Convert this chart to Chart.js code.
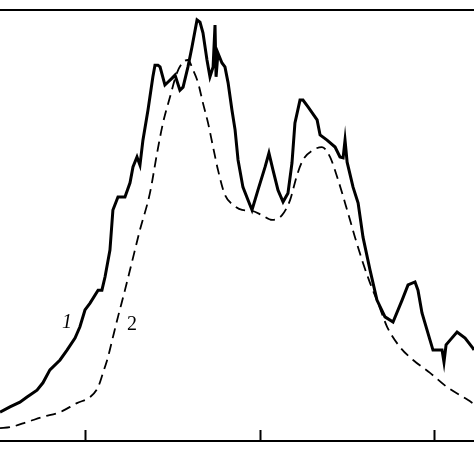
<!DOCTYPE html>
<html>
<head>
<meta charset="utf-8">
<script src="https://cdn.jsdelivr.net/npm/chart.js@4/dist/chart.umd.min.js"></script>
<style>
html, body { margin: 0; padding: 0; background: #fff; }
#wrap { width: 474px; height: 474px; }
</style>
</head>
<body>
<div id="wrap"><canvas id="grafico"></canvas></div>
<script>
// ======================================
// DATOS
// ======================================

// curva 1 (linea continua)
const xCurva1 = [51.3, 57.0, 62.7, 66.8, 72.5, 75.9, 79.9, 85.7, 89.7, 94.3, 97.1, 100, 102.9, 107.5, 109.7, 111.5, 114.3, 116.0, 118.9, 122.9, 125.8, 127.5, 129.8, 131.5, 133.2, 136.1, 138.9, 140.1, 141.8, 143.0, 145.8, 147.6, 149.9, 151.6, 154.4, 156.2, 159.0, 161.3, 164.2, 165.9, 167.6, 169.9, 171.6, 173.4, 174.5, 175.1, 176.2, 178.5, 180.2, 182.0, 184.2, 186.0, 187.7, 190.5, 193.4, 195.7, 199.1, 203.2, 205.4, 207.7, 210.6, 213.5, 216.3, 218.6, 220.3, 223.2, 224.9, 227.8, 233.0, 234.7, 238.7, 243.3, 246.1, 247.9, 249.0, 250.2, 253.6, 256.5, 259.3, 263.3, 267.3, 271.9, 276.5, 281.7, 285.1, 289.1, 290.8, 293.1, 297.7, 299.4, 304.6, 305.7, 306.9, 309.2, 313.2, 317.8, 321.8, 322.9];
const yCurva1 = [6.7, 7.9, 9.0, 10.2, 11.8, 13.5, 16.5, 18.8, 21.1, 23.9, 26.5, 30.4, 32.0, 35.0, 35.0, 38.1, 44.3, 53.6, 56.6, 56.6, 59.9, 63.6, 65.9, 64.0, 69.8, 76.8, 84.5, 87.2, 87.2, 86.8, 82.6, 83.3, 84.2, 84.9, 81.4, 82.1, 86.8, 91.4, 97.7, 97.2, 94.7, 88.4, 84.5, 86.8, 96.5, 84.5, 90.0, 87.7, 86.8, 83.1, 76.8, 72.2, 65.2, 58.9, 55.9, 53.6, 58.2, 63.6, 66.8, 62.9, 58.2, 55.5, 57.5, 64.5, 73.8, 79.1, 79.1, 77.5, 74.5, 71.0, 69.8, 68.2, 65.9, 65.7, 69.8, 64.7, 58.9, 55.2, 47.3, 39.7, 32.7, 28.8, 27.6, 32.7, 36.2, 36.9, 35.0, 29.7, 23.4, 21.1, 21.1, 18.3, 22.3, 23.4, 25.3, 23.9, 21.8, 21.1];

// curva 2 (linea discontinua)
const xCurva2 = [51.3, 57.0, 66.8, 75.9, 85.7, 95.4, 102.9, 107.5, 110.3, 113.2, 116.0, 118.9, 122.9, 126.9, 131.5, 137.2, 141.3, 144.7, 148.7, 152.7, 156.2, 159.0, 161.9, 164.8, 167.6, 170.5, 173.4, 176.2, 180.2, 184.8, 190.0, 195.7, 201.4, 207.2, 212.9, 217.5, 221.5, 224.9, 230.7, 235.8, 240.4, 245.0, 250.2, 254.7, 259.3, 263.3, 267.9, 273.1, 280.5, 288.0, 297.7, 307.5, 319.5, 322.9];
const yCurva2 = [3.0, 3.2, 4.4, 5.6, 6.7, 8.8, 10.2, 12.5, 15.8, 19.5, 24.1, 28.8, 35.0, 41.5, 49.0, 57.5, 66.8, 73.8, 79.8, 85.4, 87.9, 88.4, 86.1, 83.1, 78.4, 73.8, 68.2, 62.9, 57.1, 54.8, 53.6, 53.4, 52.4, 51.3, 52.4, 55.9, 61.7, 65.2, 67.5, 68.2, 65.9, 60.6, 53.6, 47.3, 41.3, 36.7, 32.0, 26.5, 21.8, 18.8, 15.8, 12.5, 9.5, 8.6];

// marcas del eje x
const xMarcas = [100, 200, 300];

// etiquetas de las curvas
const etiquetas = ["1", "2"];
const etiquetasX = [89.7, 126.9];
const etiquetasY = [27.4, 26.9];

const puntos = (xs, ys) => xs.map((x, i) => ({ x: x, y: ys[i] }));

// ======================================
// PLUGIN: MARCAS HACIA DENTRO, BORDE SUPERIOR Y ETIQUETAS
// ======================================

const decoracion = {
  id: "decoracion",
  afterDraw(chart) {
    const ctx = chart.ctx;
    const area = chart.chartArea;
    const sx = chart.scales.x;
    const sy = chart.scales.y;

    ctx.save();
    ctx.strokeStyle = "#000";
    ctx.lineWidth = 2;

    // borde superior
    ctx.beginPath();
    ctx.moveTo(0, area.top);
    ctx.lineTo(chart.width, area.top);
    ctx.stroke();

    // marcas
    xMarcas.forEach(v => {
      const px = Math.round(sx.getPixelForValue(v)) + 0.5;
      ctx.beginPath();
      ctx.moveTo(px, area.bottom);
      ctx.lineTo(px, area.bottom - 11);
      ctx.stroke();
    });

    // etiquetas
    ctx.fillStyle = "#000";
    ctx.textAlign = "center";
    ctx.textBaseline = "middle";
    etiquetas.forEach((t, i) => {
      ctx.font = (i === 0 ? "italic " : "") + "20px 'Liberation Serif', 'DejaVu Serif', serif";
      ctx.fillText(t, sx.getPixelForValue(etiquetasX[i]), sy.getPixelForValue(etiquetasY[i]));
    });
    ctx.restore();
  }
};

// ======================================
// GRAFICO
// ======================================

new Chart(document.getElementById("grafico"), {
  type: "line",
  data: {
    datasets: [
      {
        label: "1",
        data: puntos(xCurva1, yCurva1),
        borderColor: "#000",
        borderWidth: 3,
        pointRadius: 0,
        tension: 0,
        fill: false
      },
      {
        label: "2",
        data: puntos(xCurva2, yCurva2),
        borderColor: "#000",
        borderWidth: 1.8,
        borderDash: [10, 6],
        pointRadius: 0,
        cubicInterpolationMode: "monotone",
        fill: false
      }
    ]
  },
  options: {
    responsive: true,
    maintainAspectRatio: false,
    animation: false,
    layout: { padding: { top: 10, bottom: 33, left: 0, right: 0 } },
    plugins: {
      legend: { display: false },
      tooltip: { enabled: false }
    },
    scales: {
      x: {
        type: "linear",
        min: 51.3,
        max: 322.9,
        afterBuildTicks: s => { s.ticks = xMarcas.map(v => ({ value: v })); },
        ticks: { display: false },
        grid: { display: false, drawTicks: false },
        border: { display: true, color: "#000", width: 2 }
      },
      y: {
        display: false,
        min: 0,
        max: 100
      }
    }
  },
  plugins: [decoracion]
});
</script>
</body>
</html>
